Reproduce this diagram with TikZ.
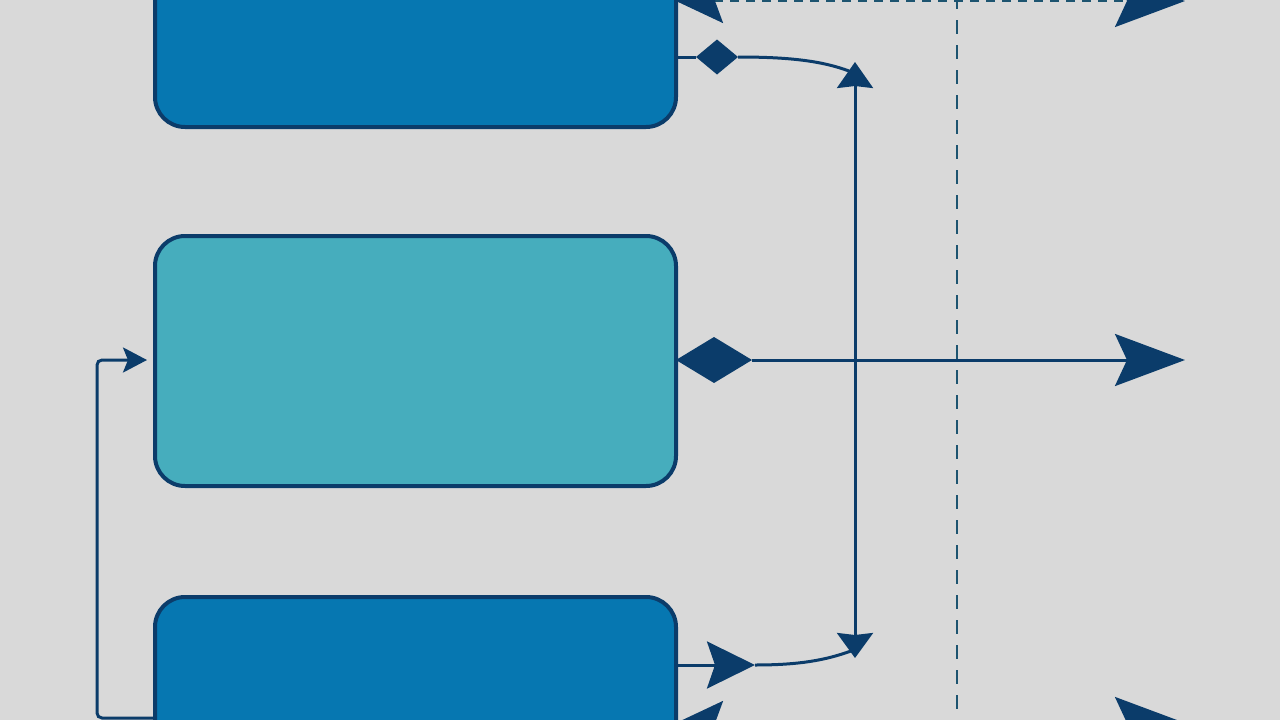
\documentclass[tikz,border=0pt]{standalone}
\usetikzlibrary{arrows.meta,shapes.geometric}
\definecolor{bgc}{HTML}{D9D9D9}
\definecolor{navy}{HTML}{0B3C6A}
\definecolor{boxblue}{HTML}{0677B1}
\definecolor{boxteal}{HTML}{46ADBD}
\definecolor{dashc}{HTML}{1D5470}
\tikzset{
  blockbox/.style={draw=navy, line width=4pt, rounded corners=30pt, minimum width=521pt, inner sep=0pt, outer sep=0pt},
  conn/.style={draw=navy, line width=3pt},
  dashconn/.style={draw=dashc, line width=2.6pt, dash pattern=on 9pt off 7pt},
  dia/.style={diamond, fill=navy, inner sep=0pt, outer sep=0pt},
  bigtip/.style={-{Stealth[length=70pt,width=52pt,inset=12pt]}},
}
\begin{document}
\begin{tikzpicture}[x=1pt,y=-1pt]
\useasboundingbox (0,0) rectangle (1280,720);
\clip (0,0) rectangle (1280,720);
\fill[bgc] (0,0) rectangle (1280,720);

% boxes
\node[blockbox, fill=boxblue, minimum height=290pt] (top) at (415.5,-18) {};
\node[blockbox, fill=boxteal, minimum height=250pt] (mid) at (415.5,361) {};
\node[blockbox, fill=boxblue, minimum height=290pt] (bot) at (415.5,742) {};

% vertical dashed divider
\coordinate (dtop) at (957,-5);
\coordinate (dbot) at (957,725);
\draw[draw=dashc, line width=2pt, dash pattern=on 14pt off 11pt] (dtop) -- (dbot);

% top dashed connector (two-headed)
\coordinate (topR) at (1185,1);
\draw[dashconn, {Stealth[length=47pt,width=44pt,inset=8pt,color=navy]}-{Stealth[length=70pt,width=52pt,inset=12pt,color=navy]}]
  ([yshift=126pt]top.south east) -- (topR);

% bottom dashed connector (two-headed), below the frame
\coordinate (botR) at (1185,723);
\draw[dashconn, {Stealth[length=47pt,width=44pt,inset=8pt,color=navy]}-{Stealth[length=70pt,width=52pt,inset=12pt,color=navy]}]
  ([yshift=-126pt]bot.north east) -- (botR);

% vertical two-headed connector
\coordinate (vt) at (855,62);
\coordinate (vb) at (855,658);
\draw[conn, {Stealth[length=26pt,width=36pt,inset=2pt]}-{Stealth[length=25pt,width=36pt,inset=2pt]}] (vt) -- (vb);

% top diamond connector
\node[dia, minimum width=42pt, minimum height=35pt] (d1) at (717,57) {};
\draw[conn] ([yshift=70pt]top.south east) -- (d1.west);
\draw[conn] (d1.east) .. controls (790,57) and (822,61) .. (849,71);

% middle diamond connector
\node[dia, minimum width=76pt, minimum height=46pt] (d2) at (714,360) {};
\coordinate (midR) at (1185,360);
\draw[conn, bigtip] (d2.east) -- (midR);

% bottom arrow connector
\coordinate (ba) at (755,665);
\draw[conn, -{Stealth[length=48pt,width=47pt,inset=8pt]}] ([yshift=-68pt]bot.north east) -- (ba);
\draw[conn] (ba) .. controls (800,665) and (826,660) .. (851,651);

% feedback loop on the left
\coordinate (fl1) at (97,718);
\coordinate (fl2) at (97,360);
\draw[conn, rounded corners=5pt, -{Stealth[length=24pt,width=25pt,inset=5pt]}]
  ([yshift=-121pt]bot.north west) -- (fl1) -- (fl2) -- ([xshift=-8pt,yshift=1pt]mid.west);
\end{tikzpicture}
\end{document}
